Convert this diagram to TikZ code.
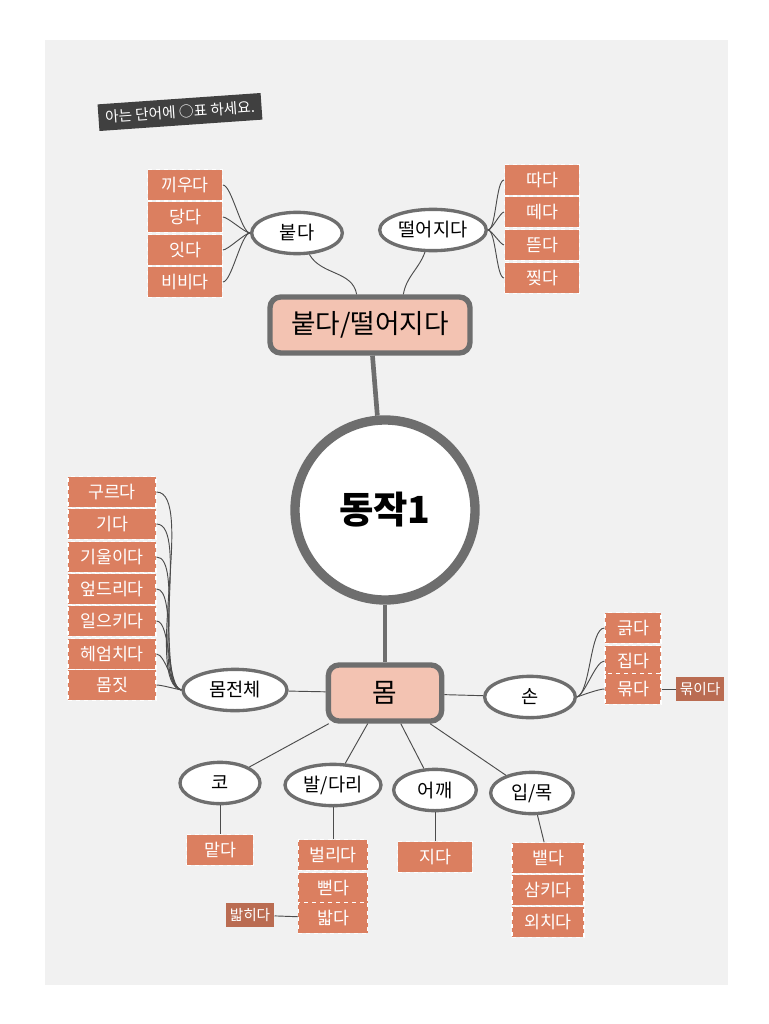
\documentclass[tikz,border=0pt]{standalone}
\usepackage{fontspec}
\setmainfont{Noto Sans CJK KR}
\usetikzlibrary{positioning,shapes.geometric}
\definecolor{wordfill}{HTML}{DB7F60}
\definecolor{mainfill}{HTML}{F3C3B2}
\definecolor{rimgray}{HTML}{6E6E6E}
\definecolor{pagegray}{HTML}{F1F1F1}
\tikzset{
    word/.style={draw=white,dashed,line width=0.8pt,fill=wordfill,text=white,
        minimum height=23pt,minimum width=56pt,inner sep=1pt,font=\fontsize{13}{13}\selectfont},
    solidword/.style={fill=wordfill!85!black,text=white,minimum height=18pt,inner sep=3pt,
        font=\fontsize{11}{11}\selectfont},
    topic/.style={ellipse,draw=rimgray,line width=2.5pt,fill=white,minimum height=31pt,
        minimum width=68pt,inner sep=1pt,font=\fontsize{14}{14}\selectfont},
    hub/.style={draw=rimgray,line width=4pt,fill=mainfill,rounded corners=8pt,
        minimum height=42pt,font=\fontsize{20}{20}\selectfont},
    link/.style={draw=black!70,line width=0.7pt},
    spine/.style={draw=rimgray,line width=3.5pt}
}
\begin{document}
\begin{tikzpicture}[x=0.75pt,y=-0.75pt]
    \useasboundingbox[fill=white] (0,0) rectangle (768,1024);
    \fill[pagegray] (45,40) rectangle (728,985);
    % banner
    \node[fill=black!75,text=white,rotate=4,font=\fontsize{11}{11}\selectfont,inner sep=5pt]
        (banner) at (180,112) {아는 단어에 ○표 하세요.};
    % centre
    \node[circle,draw=rimgray,line width=7pt,fill=white,minimum size=135pt,
        font=\fontsize{28}{28}\selectfont\bfseries] (core) at (385,510) {동작1};
    \node[hub,minimum width=150pt] (split) at (370,325) {붙다/떨어지다};
    \node[hub,minimum width=85pt] (body) at (385,693) {몸};
    \draw[spine] (split) -- (core);
    \draw[spine] (core) -- (body);
    % top
    \node[topic] (stick) at (297,233) {붙다};
    \node[topic,minimum width=80pt] (fall) at (433,230) {떨어지다};
    \draw[link] (stick) to[out=-60,in=100] ([xshift=-10pt]split.north);
    \draw[link] (fall) to[out=-110,in=80] ([xshift=25pt]split.north);
    \foreach \w/\y [count=\i] in {끼우다/185,당다/217,잇다/250,비비다/282}{
        \node[word] (stick\i) at (185,\y) {\w};
        \draw[link] (stick\i.east) to[out=0,in=180,looseness=0.4] (stick.west);
    }
    \foreach \w/\y [count=\i] in {따다/180,떼다/212,뜯다/245,찢다/278}{
        \node[word] (fall\i) at (542,\y) {\w};
        \draw[link] (fall\i.west) to[out=180,in=0,looseness=0.4] (fall.east);
    }
    % body parts
    \node[topic,minimum width=78pt] (whole) at (235,690) {몸전체};
    \node[topic] (hand) at (530,697) {손};
    \draw[link] (whole) -- (body);
    \draw[link] (hand) -- (body);
    \foreach \w/\y [count=\i] in {구르다/492,기다/524,기울이다/557,엎드리다/589,일으키다/621,헤엄치다/654,몸짓/685}{
        \node[word,minimum width=66pt] (whole\i) at (112,\y) {\w};
        \draw[link] (whole\i.east) to[out=0,in=170,looseness=0.5] (whole.west);
    }
    \foreach \w/\y [count=\i] in {긁다/628,집다/661,묶다/689}{
        \node[word,minimum width=42pt] (hand\i) at (633,\y) {\w};
        \draw[link] (hand\i.west) to[out=180,in=20,looseness=0.5] (hand.east);
    }
    \node[solidword] (tied) at (700,689) {묶이다};
    \draw[link] (hand3) -- (tied);
    \node[topic,minimum width=60pt] (nose) at (220,783) {코};
    \node[topic,minimum width=72pt] (leg) at (333,785) {발/다리};
    \node[topic,minimum width=62pt] (shoulder) at (435,790) {어깨};
    \node[topic,minimum width=62pt] (mouth) at (532,793) {입/목};
    \foreach \p in {nose,leg,shoulder,mouth}
        \draw[link] (body) -- (\p);
    \node[word,minimum width=50pt] (smell) at (220,850) {맡다};
    \draw[link] (nose) -- (smell);
    \foreach \w/\y [count=\i] in {벌리다/855,뻗다/888,밟다/918}
        \node[word,minimum width=52pt] (leg\i) at (333,\y) {\w};
    \draw[link] (leg) -- (leg1);
    \node[solidword] (stepped) at (250,915) {밟히다};
    \draw[link] (stepped) -- (leg3);
    \node[word,minimum width=56pt] (carry) at (435,857) {지다};
    \draw[link] (shoulder) -- (carry);
    \foreach \w/\y [count=\i] in {뱉다/858,삼키다/890,외치다/922}
        \node[word,minimum width=54pt] (mouth\i) at (548,\y) {\w};
    \draw[link] (mouth) -- (mouth1);
\end{tikzpicture}
\end{document}
